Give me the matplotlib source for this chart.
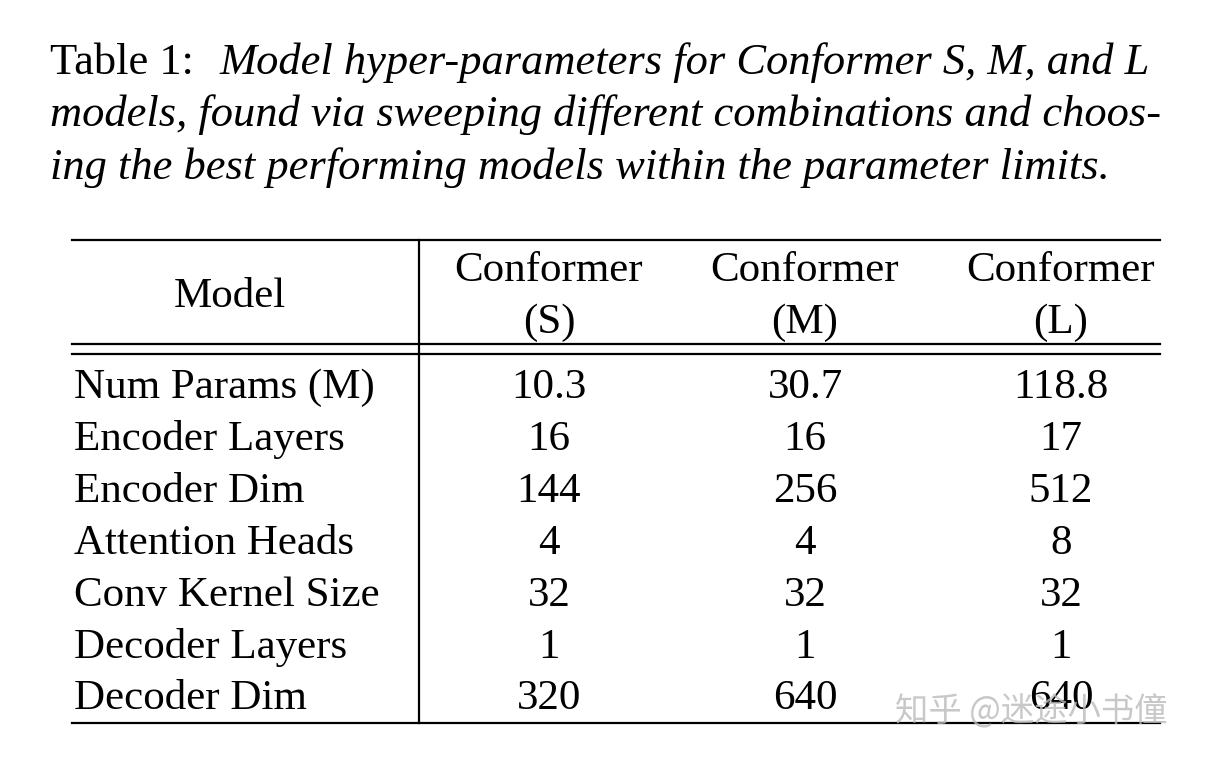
import matplotlib
matplotlib.use("Agg")
import matplotlib.pyplot as plt

caption_lines = ["Model hyper-parameters for Conformer S, M, and L",
                 "models, found via sweeping different combinations and choos-",
                 "ing the best performing models within the parameter limits."]
col_headers = [("Conformer", "(S)"), ("Conformer", "(M)"), ("Conformer", "(L)")]
row_labels = ["Num Params (M)", "Encoder Layers", "Encoder Dim", "Attention Heads",
              "Conv Kernel Size", "Decoder Layers", "Decoder Dim"]
values = [["10.3", "30.7", "118.8"], ["16", "16", "17"], ["144", "256", "512"],
          ["4", "4", "8"], ["32", "32", "32"], ["1", "1", "1"], ["320", "640", "640"]]

fig = plt.figure(figsize=(12.31, 7.63), dpi=100)
ax = fig.add_axes([0, 0, 1, 1])
ax.set_xlim(0, 1231); ax.set_ylim(763, 0); ax.axis("off")
F = "Liberation Serif"; fs = 31; cfs = 32
va = "center_baseline"

ax.text(50, 58, "Table 1:", fontfamily=F, fontsize=cfs, va=va, ha="left")
ax.text(220, 58, caption_lines[0], fontfamily=F, fontsize=cfs, style="italic", va=va)
ax.text(50, 110, caption_lines[1], fontfamily=F, fontsize=cfs, style="italic", va=va)
ax.text(50, 163, caption_lines[2], fontfamily=F, fontsize=cfs, style="italic", va=va)

k = dict(color="black", lw=1.6)
ax.plot([72, 1160], [240, 240], **k)
ax.plot([72, 1160], [344, 344], **k)
ax.plot([72, 1160], [354, 354], **k)
ax.plot([72, 1160], [723, 723], **k)
ax.plot([419, 419], [240, 723], **k)

ax.text(230, 292, "Model", fontfamily=F, fontsize=fs, ha="center", va=va)
xs = [549, 805, 1061]
for x, (a, b) in zip(xs, col_headers):
    ax.text(x, 266, a, fontfamily=F, fontsize=fs, ha="center", va=va)
    ax.text(x, 318, b, fontfamily=F, fontsize=fs, ha="center", va=va)
ys = [383, 435, 487, 539, 591, 643, 694]
for y, lab, vals in zip(ys, row_labels, values):
    ax.text(74, y, lab, fontfamily=F, fontsize=fs, ha="left", va=va)
    for x, v in zip(xs, vals):
        ax.text(x, y, v, fontfamily=F, fontsize=fs, ha="center", va=va)

ax.text(895, 712, "知乎 @迷途小书僮", fontfamily=["Noto Sans CJK SC", "DejaVu Sans"],
        fontsize=24, color="#bbbbbb", alpha=0.8, ha="left", va="center")
fig.savefig("out.png", dpi=100, facecolor="white")
